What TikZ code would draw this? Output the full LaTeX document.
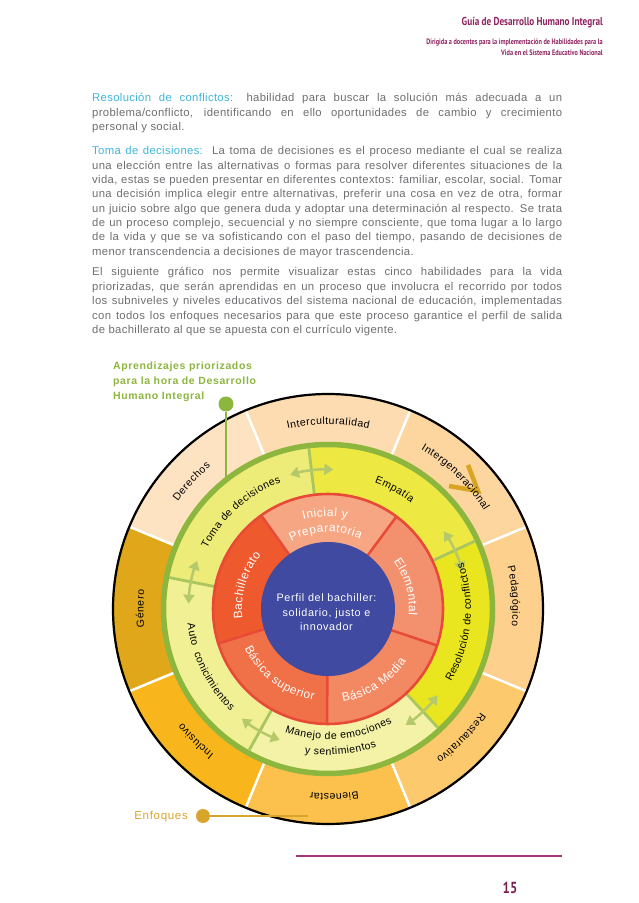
\documentclass[tikz,border=0pt]{standalone}
\usepackage{fontspec}
\setmainfont{Liberation Sans}
\newfontfamily\bodyfam[LetterSpace=3]{Liberation Sans}
\newfontfamily\labfam[LetterSpace=6]{Liberation Sans}
\newfontfamily\plainfam{Liberation Sans}
\newfontfamily\headfam[FakeStretch=0.8]{PT Sans}
\usetikzlibrary{decorations.text,arrows.meta}

\definecolor{headpurple}{HTML}{8E2461}
\definecolor{bodygray}{HTML}{6E6F72}
\definecolor{headcyan}{HTML}{3FB5DB}
\definecolor{cDer}{HTML}{FEE3C3}
\definecolor{cInt}{HTML}{FDDCB1}
\definecolor{cIntg}{HTML}{FDD69F}
\definecolor{cPed}{HTML}{FDD18D}
\definecolor{cRest}{HTML}{FCC96C}
\definecolor{cBie}{HTML}{FCC04C}
\definecolor{cInc}{HTML}{F8B61C}
\definecolor{cGnr}{HTML}{E1A71A}
\definecolor{cEmp}{HTML}{EEE842}
\definecolor{cTom}{HTML}{EEEC78}
\definecolor{cAut}{HTML}{F2F095}
\definecolor{cMan}{HTML}{F3F2A6}
\definecolor{cRsl}{HTML}{E9E51F}
\definecolor{cGreen}{HTML}{8DB63F}
\definecolor{cDiv}{HTML}{A9C55E}
\definecolor{cArr}{HTML}{B5C86A}
\definecolor{cIni}{HTML}{F6A682}
\definecolor{cEle}{HTML}{F3916E}
\definecolor{cMed}{HTML}{F28962}
\definecolor{cSup}{HTML}{F07047}
\definecolor{cBac}{HTML}{EE5A2D}
\definecolor{cRed}{HTML}{E84A38}
\definecolor{cBlue}{HTML}{404AA0}
\definecolor{cChev}{HTML}{D9A521}
\definecolor{cGold}{HTML}{D8A52C}
\definecolor{lineP}{HTML}{A3377A}
\definecolor{numP}{HTML}{7B1F4E}

\newcommand\outf{\plainfam\fontsize{10.5}{12}\selectfont\kern0.45pt}
\newcommand\lvlf{\plainfam\fontsize{12}{13}\selectfont\kern0.5pt}
\newcommand\jline[1]{\makebox[470pt][s]{#1}}
\newcommand\hl[1]{\textcolor{headcyan}{#1}}

\newcommand\cwlab[5][black]{%
  \path[decorate,decoration={text along path,text align=center,text color=#1,text={|#4|#5}}]
    (#2+40:#3) arc[start angle=#2+40,end angle=#2-40,radius=#3];}
\newcommand\ccwlab[5][black]{%
  \path[decorate,decoration={text along path,text align=center,text color=#1,text={|#4|#5}}]
    (#2-40:#3) arc[start angle=#2-40,end angle=#2+40,radius=#3];}

\tikzset{
  body/.style={anchor=base west, inner sep=0, text=bodygray, font=\bodyfam\fontsize{11.3}{14}\selectfont},
  hdr/.style={anchor=base east, inner sep=0, text=headpurple},
  aplab/.style={anchor=base west, inner sep=0, text=cGreen, font=\labfam\bfseries\fontsize{10.5}{13}\selectfont},
  skarrow/.style={cArr, line width=2.5, arrows={Triangle[length=9pt,width=11pt]-Triangle[length=9pt,width=11pt]}},
  dot/.style={circle, inner sep=0, minimum size=#1},
}

\begin{document}
\begin{tikzpicture}[x=1pt,y=1pt]
\useasboundingbox (0,0) rectangle (638,903);
\fill[white] (0,0) rectangle (638,903);

% header
\node[hdr, font=\headfam\bfseries\fontsize{11.5}{13}\selectfont] (hd1) at (603,877) {Guía de Desarrollo Humano Integral};
\node[hdr, font=\headfam\bfseries\fontsize{7.8}{9}\selectfont] (hd2) at (603,858) {Dirigida a docentes para la implementación de Habilidades para la};
\node[hdr, font=\headfam\bfseries\fontsize{7.8}{9}\selectfont] (hd3) at (603,847.5) {Vida en el Sistema Educativo Nacional};

% paragraph 1
\node[body] (p1a) at (92,801) {\jline{\hl{Resolución de conflictos:} habilidad para buscar la solución más adecuada a un}};
\node[body] (p1b) at (92,786.5) {\jline{problema/conflicto, identificando en ello oportunidades de cambio y crecimiento}};
\node[body] (p1c) at (92,772) {personal y social.};
% paragraph 2
\node[body] (p2a) at (92,748) {\jline{\hl{Toma de decisiones:}\ \ La toma de decisiones es el proceso mediante el cual se realiza}};
\node[body] (p2b) at (92,733.7) {\jline{una elección entre las alternativas o formas para resolver diferentes situaciones de la}};
\node[body] (p2c) at (92,719.4) {\jline{vida, estas se pueden presentar en diferentes contextos: familiar, escolar, social. Tomar}};
\node[body] (p2d) at (92,705.1) {\jline{una decisión implica elegir entre alternativas, preferir una cosa en vez de otra, formar}};
\node[body] (p2e) at (92,690.8) {\jline{un juicio sobre algo que genera duda y adoptar una determinación al respecto. Se trata}};
\node[body] (p2f) at (92,676.5) {\jline{de un proceso complejo, secuencial y no siempre consciente, que toma lugar a lo largo}};
\node[body] (p2g) at (92,662.2) {\jline{de la vida y que se va sofisticando con el paso del tiempo, pasando de decisiones de}};
\node[body] (p2h) at (92,647.9) {menor transcendencia a decisiones de mayor trascendencia.};
% paragraph 3
\node[body] (p3a) at (92,627) {\jline{El siguiente gráfico nos permite visualizar estas cinco habilidades para la vida}};
\node[body] (p3b) at (92,612.5) {\jline{priorizadas, que serán aprendidas en un proceso que involucra el recorrido por todos}};
\node[body] (p3c) at (92,598) {\jline{los subniveles y niveles educativos del sistema nacional de educación, implementadas}};
\node[body] (p3d) at (92,583.5) {\jline{con todos los enfoques necesarios para que este proceso garantice el perfil de salida}};
\node[body] (p3e) at (92,569) {de bachillerato al que se apuesta con el currículo vigente.};

% ---------- diagram ----------
\begin{scope}[shift={(328,294)}]
  % outer ring (enfoques)
  \foreach \a/\c in {90/cInt,45/cIntg,0/cPed,-45/cRest,-90/cBie,-135/cInc,180/cGnr,135/cDer}
    \fill[\c] (0,0) -- (\a-22.5:216) arc[start angle=\a-22.5,end angle=\a+22.5,radius=216] -- cycle;
  \foreach \a in {22.5,67.5,...,337.5}
    \draw[white, line width=2.5] (\a:165) -- (\a:216);
  \draw[black, line width=2.2] (0,0) circle[radius=215];
  % chevron mark
  \draw[cChev, line width=4.5, line join=miter] (140,144) -- (150,118) -- (121,123);

  % skills ring
  \foreach \s/\c in {24.8/cEmp,96.8/cTom,168.8/cAut,240.8/cMan,312.8/cRsl}
    \fill[\c] (0,0) -- (\s:165) arc[start angle=\s,end angle=\s+72,radius=165] -- cycle;
  \draw[cGreen, line width=5.5] (0,0) circle[radius=164.5];
  \foreach \s in {24.8,96.8,168.8,240.8,312.8}{
    \draw[cDiv, line width=2.8] (\s:114) -- (\s:162);
    \draw[skarrow] (\s-9:139.5) arc[start angle=\s-9,end angle=\s+9,radius=139.5];
  }

  % levels ring
  \foreach \s/\c in {53.5/cIni,-18.5/cEle,-90.5/cMed,-162.5/cSup,125.5/cBac}
    \fill[\c] (0,0) -- (\s:115) arc[start angle=\s,end angle=\s+72,radius=115] -- cycle;
  \foreach \s in {53.5,125.5,197.5,269.5,341.5}
    \draw[cRed, line width=2.5] (\s:66) -- (\s:115);
  \draw[cRed, line width=2.6] (0,0) circle[radius=115];
  \fill[cBlue] (0,0) circle[radius=67];
  \node[align=center, text=white, inner sep=0, font=\labfam\fontsize{10.8}{14.5}\selectfont] (perfil) at (-1.5,-3.5)
    {Perfil del bachiller:\\solidario, justo e\\innovador};

  % outer labels
  \cwlab{90}{184.5}{\outf}{Interculturalidad}
  \cwlab{46}{184.5}{\outf}{Intergeneracional}
  \cwlab{4}{184.5}{\outf}{Pedagógico}
  \cwlab{-44}{184.5}{\outf}{Restaurativo}
  \cwlab{-88}{184.5}{\outf}{Bienestar}
  \cwlab{-135}{184.5}{\outf}{Inclusivo}
  \cwlab{180}{184.5}{\outf}{Género}
  \cwlab{137}{184.5}{\outf}{Derechos}

  % skills labels
  \cwlab{61}{135}{\outf}{Empatía}
  \cwlab{132}{135}{\outf}{Toma de decisiones}
  \ccwlab{206}{141}{\outf}{Auto {\ }conicimientos}
  \ccwlab{275}{130.5}{\outf}{Manejo de emociones}
  \ccwlab{275}{146}{\outf}{y sentimientos}
  \ccwlab{-6}{143}{\outf}{Resolución de conflictos}

  % level labels
  \cwlab[white]{92}{92.5}{\lvlf}{Inicial y}
  \cwlab[white]{92}{77}{\lvlf}{Preparatoria}
  \cwlab[white]{16}{81}{\lvlf}{Elemental}
  \ccwlab[white]{-57.5}{94}{\lvlf}{Básica Media}
  \ccwlab[white]{-127}{92}{\lvlf}{Básica superior}
  \cwlab[white]{164}{86}{\lvlf}{Bachillerato}
\end{scope}

% callouts
\node[aplab] (ap1) at (113,533) {Aprendizajes priorizados};
\node[aplab] (ap2) at (113,518) {para la hora de Desarrollo};
\node[aplab] (ap3) at (113,503.5) {Humano Integral};
\node[dot=15, fill=cGreen] (dotA) at (226,499) {};
\coordinate (ringA) at (226,423);
\draw[cGreen, line width=2.5] (dotA) -- (ringA);

\node[dot=14, fill=cGold] (dotE) at (203,87) {};
\coordinate (endE) at (308,87);
\draw[cGold, line width=1.3] (dotE) -- (endE);
\node[anchor=base east, inner sep=0, text=cGold, font=\labfam\fontsize{11.5}{13}\selectfont] (enf) at (188,83) {Enfoques};

% footer
\coordinate (fl) at (296,47);
\coordinate (fr) at (562,47);
\draw[lineP, line width=2] (fl) -- (fr);
\node[inner sep=0, text=numP, font=\headfam\bfseries\fontsize{16}{18}\selectfont] (pnum) at (510,15) {15};
\end{tikzpicture}
\end{document}
